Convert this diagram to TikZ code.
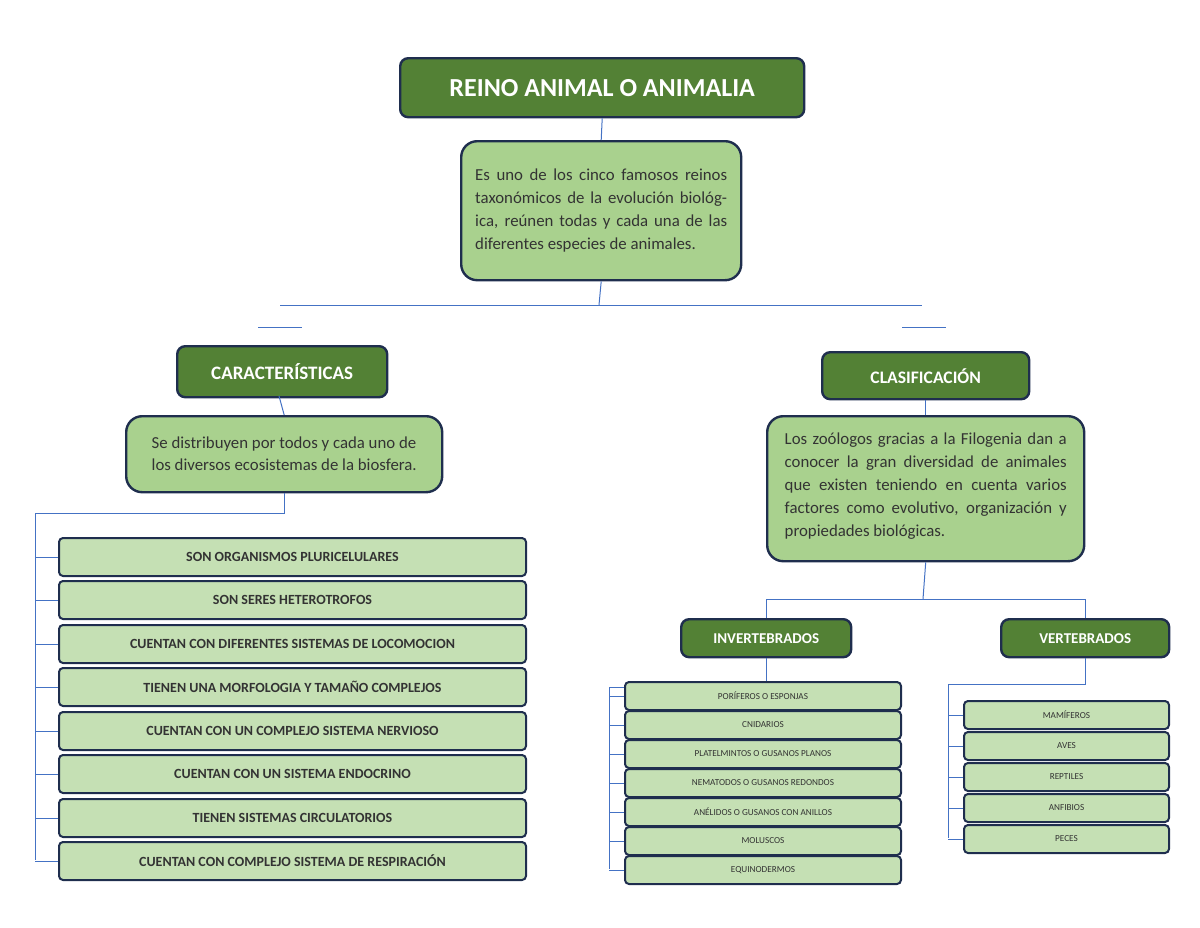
\documentclass[tikz,border=0pt]{standalone}
\usepackage{fontspec}
\setmainfont{Carlito}
\usetikzlibrary{calc}
\definecolor{HeadGreen}{RGB}{83,129,53}
\definecolor{TextGreen}{RGB}{169,209,142}
\definecolor{ItemGreen}{RGB}{197,224,180}
\definecolor{EdgeNavy}{RGB}{31,46,78}
\definecolor{LinkBlue}{RGB}{68,114,196}
\tikzset{
  headbox/.style={draw=EdgeNavy, line width=1.2pt, fill=HeadGreen, rounded corners=4pt,
    text=white, font=\bfseries, anchor=north west, inner sep=0pt},
  textbox/.style={draw=EdgeNavy, line width=1.2pt, fill=TextGreen, rounded corners=8pt,
    anchor=north west, inner sep=0pt, text=black!80},
  itembox/.style={draw=EdgeNavy, line width=1pt, fill=ItemGreen, rounded corners=2pt,
    anchor=north west, inner sep=0pt, font=\bfseries, text=black!80},
  link/.style={draw=LinkBlue, line width=0.5pt},
}
% box at pixel position: name, x, y, w, h
\newcommand{\pbox}[6]{\node[#1, minimum width=#4*0.5pt, minimum height=#5*0.5pt] (#2) at (#3) {#6};}

\begin{document}
\begin{tikzpicture}[x=0.5pt, y=-0.5pt]
  \useasboundingbox (0,0) rectangle (1200,927);

  % --- top ---
  \pbox{headbox, font=\bfseries\fontsize{13}{15}\selectfont}{reino}{399,57}{404}{59}{REINO ANIMAL O ANIMALIA}
  \node[textbox, minimum width=140pt, minimum height=69.5pt] (def) at (460,140) {};
  \node[text width=126pt, align=justify, font=\fontsize{8.4}{11.5}\selectfont, text=black!80]
    at (def.center) {Es uno de los cinco famosos reinos taxonómicos de la evolución biológica, reúnen todas y cada una de las diferentes especies de animales.};
  \draw[link] (reino.south) -- (def.north);
  \coordinate (bus) at (599,305);
  \draw[link] (def.south) -- (bus);
  \draw[link] (280,305) -- (922,305);
  \draw[link] (258,327) -- (302,327);
  \draw[link] (902,327) -- (946,327);

  % --- left branch ---
  \pbox{headbox, font=\bfseries\fontsize{9.5}{11}\selectfont}{carac}{176,345}{210}{51}{CARACTERÍSTICAS}
  \node[textbox, minimum width=158pt, minimum height=38pt] (dist) at (125,415) {};
  \node[align=left, font=\fontsize{8.4}{11}\selectfont, text=black!80]
    at (dist.center) {Se distribuyen por todos y cada uno de\\los diversos ecosistemas de la biosfera.};
  \draw[link] (279,396) -- (dist.north);
  \coordinate (lroot) at (35,513);
  \draw[link] (dist.south) |- (lroot) -- (35,860);
  \foreach \y/\txt [count=\i] in {537/SON ORGANISMOS PLURICELULARES, 580/SON SERES HETEROTROFOS,
      624/CUENTAN CON DIFERENTES SISTEMAS DE LOCOMOCION, 667/TIENEN UNA MORFOLOGIA Y TAMAÑO COMPLEJOS,
      711/CUENTAN CON UN COMPLEJO SISTEMA NERVIOSO, 754/CUENTAN CON UN SISTEMA ENDOCRINO,
      798/TIENEN SISTEMAS CIRCULATORIOS, 841/CUENTAN CON COMPLEJO SISTEMA DE RESPIRACIÓN} {
    \pbox{itembox, font=\bfseries\fontsize{7}{8}\selectfont}{car\i}{58,\y}{467}{38}{\txt}
    \draw[link] (car\i.west) -- (car\i.west -| lroot);
  }

  % --- right branch ---
  \pbox{headbox, font=\bfseries\fontsize{8.8}{10}\selectfont}{clasif}{821,351}{207}{47}{CLASIFICACIÓN}
  \node[textbox, minimum width=158.5pt, minimum height=72.5pt] (filo) at (766,415) {};
  \begin{scope}
    \clip ($(filo.north west)+(2pt,-2pt)$) rectangle ($(filo.south east)+(-2pt,5pt)$);
    \node[anchor=north, text width=141pt, align=justify, font=\fontsize{8.4}{11.5}\selectfont, text=black!80]
      at ($(filo.north)+(0,-5.5pt)$) {Los zoólogos gracias a la Filogenia dan a conocer la gran diversidad de animales que existen teniendo en cuenta varios factores como evolutivo, organización y propiedades biológicas.};
  \end{scope}
  \draw[link] (clasif.south) -- (filo.north);

  \pbox{headbox, font=\bfseries\fontsize{7.5}{9}\selectfont}{inv}{680,618}{170}{38}{INVERTEBRADOS}
  \pbox{headbox, font=\bfseries\fontsize{7.5}{9}\selectfont}{vert}{1000,618}{168}{38}{VERTEBRADOS}
  \coordinate (split) at (923,599);
  \draw[link] (filo.south) -- (split);
  \draw[link] (inv.north) |- (split) -| (vert.north);

  \coordinate (iroot) at (609,687);
  \draw[link] (inv.south) |- (iroot) -- (609,869);
  \foreach \y/\txt [count=\i] in {681/PORÍFEROS O ESPONJAS, 710/CNIDARIOS, 739/PLATELMINTOS O GUSANOS PLANOS,
      768/NEMATODOS O GUSANOS REDONDOS, 797/ANÉLIDOS O GUSANOS CON ANILLOS, 826/MOLUSCOS, 855/EQUINODERMOS} {
    \pbox{itembox, font=\fontsize{4.6}{5}\selectfont}{inv\i}{624,\y}{276}{28}{\txt}
    \draw[link] (inv\i.west) -- (inv\i.west -| iroot);
  }

  \coordinate (vroot) at (948,684);
  \draw[link] (vert.south) |- (vroot) -- (948,838);
  \foreach \y/\txt [count=\i] in {700/MAMÍFEROS, 731/AVES, 762/REPTILES, 793/ANFIBIOS, 824/PECES} {
    \pbox{itembox, font=\fontsize{4.6}{5}\selectfont}{ver\i}{963,\y}{205}{28}{\txt}
    \draw[link] (ver\i.west) -- (ver\i.west -| vroot);
  }
\end{tikzpicture}
\end{document}
